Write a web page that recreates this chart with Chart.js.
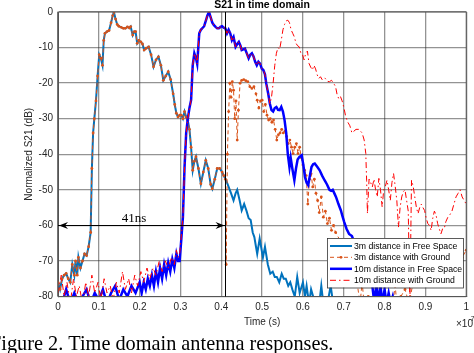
<!DOCTYPE html>
<html><head><meta charset="utf-8">
<script src="https://cdn.jsdelivr.net/npm/chart.js@4"></script>
<style>html,body{margin:0;padding:0;background:#fff;overflow:hidden}#wrap{position:relative;width:474px;height:353px}</style>
</head><body><div id="wrap"><canvas id="c" width="474" height="353"></canvas></div>
<script>
// ---------- data (time in units of 1e-7 s, magnitude in dB) ----------
const chartTitle = 'S21 in time domain';
const xTitle = 'Time (s)';
const yTitle = 'Normalized S21 (dB)';
const caption = 'Figure 2. Time domain antenna responses.';
const seriesNames = ['3m distance in Free Space', '3m distance with Ground', '10m distance in Free Space', '10m distance with Ground'];
const xTickLabels = ['0','0.1','0.2','0.3','0.4','0.5','0.6','0.7','0.8','0.9','1'];
const yTickValues = [-80,-70,-60,-50,-40,-30,-20,-10,0];
const markerTime = 0.41;      // vertical marker
const arrowLevel = -60;       // double arrow level
const arrowLabel = '41ns';

const t3mFree = [0,0.005,0.01,0.015,0.02,0.025,0.03,0.035,0.04,0.043,0.047,0.05,0.055,0.06,0.065,0.07,0.075,0.08,0.083,0.086,0.089,0.093,0.097,0.101,0.105,0.109,0.112,0.115,0.12,0.125,0.13,0.134,0.137,0.141,0.145,0.149,0.155,0.16,0.165,0.17,0.175,0.178,0.183,0.187,0.19,0.194,0.198,0.203,0.207,0.211,0.216,0.222,0.228,0.234,0.24,0.246,0.252,0.258,0.264,0.27,0.276,0.282,0.286,0.29,0.294,0.298,0.302,0.306,0.31,0.314,0.318,0.322,0.326,0.33,0.334,0.338,0.344,0.35,0.356,0.362,0.368,0.374,0.378,0.384,0.39,0.396,0.402,0.406,0.41,0.414,0.418,0.424,0.43,0.435,0.439,0.445,0.45,0.456,0.462,0.467,0.472,0.477,0.481,0.485,0.488,0.494,0.502,0.507,0.514,0.52,0.526,0.531,0.536,0.542,0.548,0.553,0.558,0.564,0.569,0.574,0.58,0.586,0.592,0.6,0.605,0.609,0.615,0.62,0.63,0.64,0.645,0.65,0.66,0.668,0.674,0.68];
const db3mFree = [-76,-78,-75,-74,-73.5,-75,-76,-71,-74,-70,-74,-69,-72,-70,-68,-68.5,-66,-62,-44,-34,-30,-25,-18,-12,-13,-15,-8,-6,-5.5,-5.2,-3,-1,0,-2,-3.5,-4,-4.3,-4.6,-4.6,-4.2,-4.5,-4.1,-6.5,-5.5,-5.5,-8.8,-8,-8.4,-9,-10.7,-10.2,-9.8,-12,-15.4,-13.5,-12.6,-15,-19.2,-18,-16.8,-19,-23,-26,-28.5,-29.5,-29,-29,-30,-28,-29.5,-30.5,-33,-38,-44.5,-42,-40.7,-44,-48.3,-45,-41.7,-44,-48.5,-49.7,-47,-44,-44,-45,-46,-47,-48,-49.2,-51,-53,-51,-50,-53,-55.8,-54,-56,-58,-58.5,-62,-63.3,-66,-68,-63.7,-69,-66,-71,-73.6,-73,-74.5,-74.5,-76,-73.6,-75,-75,-77,-76,-78,-80,-74.5,-79,-76,-80,-77,-82,-78,-82,-82,-77,-82,-82,-77,-82,-82];

const t3mGround = [0,0.005,0.01,0.015,0.02,0.025,0.03,0.035,0.04,0.043,0.047,0.05,0.055,0.06,0.065,0.07,0.075,0.08,0.083,0.086,0.089,0.093,0.097,0.101,0.105,0.109,0.112,0.115,0.12,0.125,0.13,0.134,0.137,0.141,0.145,0.149,0.155,0.16,0.165,0.17,0.175,0.178,0.183,0.187,0.19,0.194,0.198,0.203,0.207,0.211,0.216,0.222,0.228,0.234,0.24,0.246,0.252,0.258,0.264,0.27,0.276,0.282,0.286,0.29,0.294,0.298,0.302,0.306,0.31,0.314,0.318,0.322,0.326,0.33,0.334,0.338,0.344,0.35,0.356,0.362,0.368,0.374,0.378,0.384,0.39,0.396,0.402,0.406,
  0.41,0.412,0.415,0.418,0.421,0.424,0.427,0.43,0.433,0.436,0.439,0.442,0.446,0.45,0.455,0.46,0.465,0.47,0.475,0.48,0.485,0.488,0.492,0.496,0.5,0.504,0.508,0.512,0.516,0.52,0.524,0.528,0.532,0.536,0.54,0.544,0.548,0.552,0.556,0.56,0.564,0.568,0.572,0.576,0.58,0.584,0.588,0.592,0.596,0.6,0.604,0.608,0.612,0.616,0.62,0.624,0.628,0.632,0.636,0.64,0.645,0.65,0.655,0.66,0.665,0.67,0.675,0.68,0.69,0.7,0.71,0.72,0.73,0.74,0.745,0.75,0.76,0.77,0.78,0.79,0.8,0.81,0.82,0.826,0.83,0.84,0.85,0.86,0.87,0.88,0.89,0.9,0.91,0.92,0.93,0.94,0.95,0.96,0.97,0.98,0.99,1.0];
const db3mGround = [-76,-78,-75,-74,-73.5,-75,-76,-71,-74,-70,-74,-69,-72,-70,-68,-68.5,-66,-62,-44,-34,-30,-25,-18,-12,-13,-15,-8,-6,-5.5,-5.2,-3,-1,0,-2,-3.5,-4,-4.3,-4.6,-4.6,-4.2,-4.5,-4.1,-6.5,-5.5,-5.5,-8.8,-8,-8.4,-9,-10.7,-10.2,-9.8,-12,-15.4,-13.5,-12.6,-15,-19.2,-18,-16.8,-19,-23,-26,-28.5,-29.5,-29,-29,-30,-28,-29.5,-30.5,-33,-38,-44.5,-42,-40.7,-44,-48.3,-45,-41.7,-44,-48.5,-49.7,-47,-44,-44,-45,-46,
  -47,-71,-40,-28,-20,-24,-19.6,-22,-30,-25,-36,-27.6,-20,-19.2,-19,-19.3,-19.6,-21,-21.5,-21,-23,-24.8,-27,-25,-24.8,-28,-26,-29,-30.4,-30,-31,-30.4,-33,-36,-34.5,-34,-33,-34,-33.5,-35,-37,-36,-38,-39.8,-38,-37,-39.8,-38,-41,-43,-44.5,-46,-54,-47,-45.5,-49.2,-47,-51,-53,-56.4,-52,-57.7,-56,-59.5,-58,-61.4,-60,-62,-64,-66,-70,-68,-74,-82,-76,-82,-80,-82,-77,-82,-80,-82,-82,-77,-82,-80,-78,-82,-76,-72,-75,-70,-73,-68,-70,-66,-69,-67,-70,-68,-69,-67];

const t10mFree = [0,0.01,0.02,0.03,0.04,0.05,0.06,0.07,0.08,0.09,0.1,0.11,0.12,0.13,0.14,0.15,0.16,0.17,0.18,0.19,0.2,0.205,0.21,0.215,0.22,0.225,0.23,0.235,0.24,0.245,0.25,0.255,0.26,0.265,0.27,0.275,0.28,0.285,0.29,0.294,0.298,0.302,0.306,0.31,0.314,0.318,0.322,0.326,0.33,0.334,0.338,0.341,0.346,0.35,0.354,0.358,0.362,0.366,0.37,0.374,0.378,0.382,0.386,0.39,0.394,0.398,0.402,0.406,0.41,0.414,0.418,0.422,0.426,0.43,0.435,0.439,0.443,0.447,0.45,0.454,0.458,0.462,0.467,0.471,0.475,0.479,0.483,0.487,0.491,0.495,0.499,0.503,0.507,0.51,0.515,0.519,0.523,0.527,0.531,0.535,0.539,0.543,0.547,0.551,0.555,0.559,0.563,0.567,0.57,0.574,0.579,0.583,0.587,0.591,0.597,0.601,0.605,0.609,0.613,0.617,0.621,0.625,0.629,0.635,0.641,0.647,0.653,0.659,0.665,0.669,0.673,0.677,0.681,0.687,0.693,0.697,0.701,0.707,0.713,0.72,0.73,0.74,0.75,0.76,0.77,0.775,0.78,0.785,0.79,0.795,0.8,0.805,0.81,0.815,0.82,0.825];
const db10mFree = [-80,-82,-78,-82,-79,-82,-80,-78,-82,-79,-81,-78,-82,-79,-77,-81,-78,-80,-77,-79,-76,-79,-76,-78,-75,-77,-74,-77,-73,-76,-72,-75,-71,-74,-70.5,-73,-69.5,-72,-68,-70,-70,-64,-57.7,-43.6,-34,-30,-27,-24.8,-15,-11.6,-13,-14.6,-6,-5,-4.5,-4,-2.5,-1,0,-1.5,-3,-3.7,-4.2,-4.6,-4.6,-4.2,-4,-4.4,-4.6,-6,-5,-6,-7.9,-7,-9.8,-9,-8.4,-9.5,-10.7,-10.5,-10.3,-11.5,-13,-12,-11.6,-12.5,-14,-15,-14,-14.5,-15.9,-16.3,-17.5,-20,-23,-25.8,-27.6,-28,-27,-26.7,-27.5,-27.6,-26.7,-28,-30.4,-34,-40,-43.6,-41,-44,-47.3,-44,-41.5,-40.8,-40.3,-43,-46.4,-48,-48.7,-46,-43.6,-42.8,-42.6,-43.5,-44.5,-46,-47.3,-48.5,-50,-50.3,-50,-51,-52,-54,-55.8,-57.5,-59,-61,-62.4,-63,-66,-69,-72,-75,-77,-82,-76,-82,-77,-82,-78,-82,-79,-82,-80,-83];

const t10mGround = [0,0.008,0.015,0.022,0.03,0.038,0.045,0.052,0.06,0.068,0.075,0.083,0.09,0.098,0.105,0.113,0.12,0.128,0.135,0.143,0.15,0.158,0.165,0.173,0.18,0.188,0.195,0.203,0.21,0.218,0.225,0.233,0.24,0.248,0.255,0.263,0.27,0.278,0.285,0.29,0.294,0.298,0.302,
  0.306,0.31,0.314,0.318,0.322,0.326,0.33,0.334,0.338,0.341,0.346,0.35,0.354,0.358,0.362,0.366,0.37,0.374,0.378,0.382,0.386,0.39,0.394,0.398,0.402,0.406,0.41,0.414,0.418,0.422,0.426,0.43,0.435,0.439,0.443,0.447,0.45,0.454,0.458,0.462,0.467,0.471,0.475,0.479,0.483,0.487,0.491,0.495,0.499,0.503,0.507,0.51,0.515,0.519,
  0.523,0.527,0.531,0.535,0.539,0.543,0.547,0.551,0.555,0.559,0.563,0.567,0.571,0.575,0.579,0.583,0.587,0.591,0.595,0.599,0.603,0.607,0.611,0.615,0.619,0.623,0.627,0.631,0.635,0.639,0.643,0.647,0.651,0.655,0.66,0.665,0.67,0.675,0.68,0.684,0.688,0.692,0.696,0.7,0.705,0.71,0.715,0.72,0.725,0.73,0.737,0.745,0.75,0.754,0.756,0.758,0.762,0.766,0.77,0.774,0.778,0.782,0.786,0.79,0.794,0.798,0.802,0.806,0.81,0.814,0.818,0.822,0.826,0.83,0.834,0.838,0.842,0.846,0.85,0.854,0.858,0.862,0.866,0.87,0.874,0.878,0.882,0.886,0.89,0.894,0.898,0.902,0.906,0.91,0.914,0.918,0.922,0.926,0.93,0.934,0.938,0.942,0.946,0.95,0.955,0.96,0.965,0.97,0.975,0.98,0.985,0.99,0.995,1.0];
const db10mGround = [-79,-74,-80,-76,-82,-75,-80,-77,-82,-76,-80,-74,-79,-76,-81,-75,-79,-77,-81,-76,-79,-73,-78,-75,-79,-74,-77,-73,-76,-72,-75,-72,-74,-70,-73,-70,-72,-69,-71,-67,-69,-68,-63,
  -57.7,-43.6,-34,-30,-27,-24.8,-15,-11.6,-13,-14.6,-6,-5,-4.5,-4,-2.5,-1,0,-1.5,-3,-3.7,-4.2,-4.6,-4.6,-4.2,-4,-4.4,-4.6,-6,-5,-6,-7.9,-7,-9.8,-9,-8.4,-9.5,-10.7,-10.5,-10.3,-11.5,-13,-12,-11.6,-12.5,-14,-15,-14,-14.5,-15.9,-16.3,-17.5,-20,-23,-25.8,
  -24,-20,-15,-11.6,-10,-10.5,-7.9,-5,-3.5,-2.5,-2.3,-3,-5,-6,-7,-8.8,-9.5,-9.8,-11.6,-12,-13.5,-11.5,-11,-14.5,-15.5,-16.3,-15,-16,-17.7,-18.7,-18.2,-19,-18.5,-18.7,-19.5,-19.6,-19.2,-20,-21,-23.4,-24.4,-23.8,-25,-26.7,-29.5,-31,-32,-34,-33.5,-33,-33,-34,-36,-39.8,-47.3,-56.7,-47,-48,-49.2,-47,-50,-52,-46.8,-50,-54.8,-50,-49,-47.3,-50,-53,-48,-45.4,-49,-53,-60.5,-55,-52,-50.5,-50,-53,-56,-82,-47.3,-49,-52,-55,-56.7,-55,-54,-55,-55.8,-58,-59.5,-60,-61.4,-58,-56,-57,-59.5,-61,-62.4,-61,-61,-59,-57.7,-57,-56,-54,-52,-51,-50,-52,-53,-54];

// ---------- styles ----------
const SANS = '"Liberation Sans", Arial, sans-serif';
const SERIF = '"Liberation Serif", "Times New Roman", serif';
const TXT = '#262626';
const GRID = 'rgba(40,40,40,0.5)';
const colors = ['#0072BD', '#D95319', '#0000FF', '#FF0000'];
const widths = [2, 1, 2.5, 1];
const dashes = [[], [4, 3], [], [6, 3, 1.5, 3]];
const toXY = (t, v) => t.map((x, i) => ({x: x, y: v[i]}));

function arrowHead(ctx, x, y, dir) {
  ctx.beginPath();
  ctx.moveTo(x, y);
  ctx.lineTo(x + dir * 9, y - 3.5);
  ctx.lineTo(x + dir * 6, y);
  ctx.lineTo(x + dir * 9, y + 3.5);
  ctx.closePath();
  ctx.fill();
}

const overlay = {
  id: 'overlay',
  afterDatasetsDraw(chart) {
    const {ctx, chartArea: a, scales: {x, y}} = chart;
    ctx.save();
    ctx.strokeStyle = '#555'; ctx.lineWidth = 1; ctx.setLineDash([]);
    ctx.strokeRect(a.left, a.top, a.right - a.left, a.bottom - a.top);
    const xm = Math.round(x.getPixelForValue(markerTime)) + 0.5;
    ctx.strokeStyle = '#000';
    ctx.beginPath(); ctx.moveTo(xm, a.top); ctx.lineTo(xm, a.bottom); ctx.stroke();
    const ya = Math.round(y.getPixelForValue(arrowLevel)) + 0.5;
    const x0 = x.getPixelForValue(0);
    ctx.beginPath(); ctx.moveTo(x0, ya); ctx.lineTo(xm, ya); ctx.stroke();
    ctx.fillStyle = '#000';
    arrowHead(ctx, x0 + 1, ya, 1);
    arrowHead(ctx, xm - 1, ya, -1);
    ctx.font = '13px ' + SERIF;
    ctx.textAlign = 'center'; ctx.textBaseline = 'alphabetic';
    ctx.fillText(arrowLabel, x.getPixelForValue(0.186), ya - 3.5);
    ctx.restore();
  },
  afterDraw(chart) {
    const {ctx, chartArea: a} = chart;
    ctx.save();
    ctx.fillStyle = '#000';
    ctx.font = 'bold 10.5px ' + SANS;
    ctx.textAlign = 'center'; ctx.textBaseline = 'middle';
    ctx.fillText(chartTitle, (a.left + a.right) / 2, 5);
    ctx.fillStyle = TXT;
    ctx.font = '10px ' + SANS;
    ctx.fillText(xTitle, (a.left + a.right) / 2, 322);
    ctx.save();
    ctx.translate(29, (a.top + a.bottom) / 2);
    ctx.rotate(-Math.PI / 2);
    ctx.fillText(yTitle, 0, 0);
    ctx.restore();
    ctx.textAlign = 'left'; ctx.textBaseline = 'alphabetic';
    ctx.font = '10px ' + SANS;
    ctx.fillText('\u00d710', 456, 327);
    ctx.font = '7px ' + SANS;
    ctx.fillText('-7', 468.5, 321);
    // legend
    const lx = 327, ly = 238, lw = 136, lh = 49.5;
    ctx.fillStyle = '#fff';
    ctx.fillRect(lx, ly, lw, lh);
    ctx.strokeStyle = '#333'; ctx.lineWidth = 0.8;
    ctx.strokeRect(lx + 0.5, ly + 0.5, lw, lh);
    const rows = [246, 257.3, 268.8, 280.3];
    ctx.font = '8.7px ' + SANS;
    ctx.textBaseline = 'middle';
    for (let i = 0; i < 4; i++) {
      const yy = rows[i];
      ctx.strokeStyle = colors[i];
      ctx.lineWidth = widths[i];
      ctx.setLineDash(dashes[i]);
      ctx.beginPath(); ctx.moveTo(330, yy); ctx.lineTo(352, yy); ctx.stroke();
      ctx.setLineDash([]);
      if (i === 1) {
        ctx.fillStyle = colors[i];
        ctx.beginPath(); ctx.arc(341, yy, 1.4, 0, Math.PI * 2); ctx.fill();
      }
      ctx.fillStyle = '#000';
      ctx.fillText(seriesNames[i], 354, yy + 0.5);
    }
    // caption
    ctx.fillStyle = '#000';
    ctx.font = '20.3px ' + SERIF;
    ctx.textBaseline = 'alphabetic';
    ctx.fillText(caption, -10, 350);
    ctx.restore();
  }
};

const datasets = [
  {label: seriesNames[0], data: toXY(t3mFree, db3mFree), order: 3},
  {label: seriesNames[1], data: toXY(t3mGround, db3mGround), order: 2, pointRadius: 1.4},
  {label: seriesNames[2], data: toXY(t10mFree, db10mFree), order: 1},
  {label: seriesNames[3], data: toXY(t10mGround, db10mGround), order: 0}
].map((d, i) => Object.assign({
  borderColor: colors[i],
  backgroundColor: colors[i],
  borderWidth: widths[i],
  borderDash: dashes[i],
  pointRadius: 0,
  pointBorderWidth: 0,
  pointBackgroundColor: colors[i],
  tension: 0,
  fill: false
}, d));

new Chart(document.getElementById('c'), {
  type: 'line',
  data: {datasets},
  options: {
    responsive: false,
    animation: false,
    events: [],
    layout: {padding: {top: 12, right: 2, left: 0, bottom: 0}},
    plugins: {legend: {display: false}, title: {display: false}, tooltip: {enabled: false}},
    scales: {
      x: {
        type: 'linear', min: 0, max: 1,
        afterFit: s => { s.height = 56.5; },
        afterBuildTicks: s => { s.ticks = xTickLabels.map(l => ({value: parseFloat(l)})); },
        ticks: {
          callback: (v, i) => xTickLabels[i],
          color: TXT, font: {family: SANS, size: 10}, padding: 5, maxRotation: 0, autoSkip: false
        },
        grid: {color: GRID, lineWidth: 1.3, drawTicks: false},
        border: {display: true, color: '#555', width: 1}
      },
      y: {
        type: 'linear', min: -80, max: 0,
        afterFit: s => { s.width = 58; },
        afterBuildTicks: s => { s.ticks = yTickValues.map(v => ({value: v})); },
        ticks: {color: TXT, font: {family: SANS, size: 10}, padding: 5, autoSkip: false},
        grid: {color: GRID, lineWidth: 1.3, drawTicks: false},
        border: {display: true, color: '#555', width: 1}
      }
    }
  },
  plugins: [overlay]
});
</script>
</body></html>
